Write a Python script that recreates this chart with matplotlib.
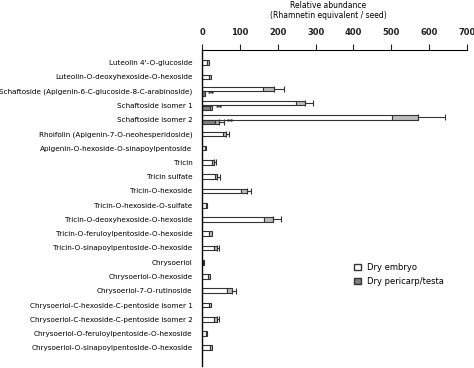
import matplotlib
matplotlib.use("Agg")
import matplotlib.pyplot as plt
import numpy as np
from matplotlib.patches import Patch

compounds = [
    "Luteolin 4'-O-glucoside",
    "Luteolin-O-deoxyhexoside-O-hexoside",
    "Schaftoside (Apigenin-6-C-glucoside-8-C-arabinoside)",
    "Schaftoside isomer 1",
    "Schaftoside isomer 2",
    "Rhoifolin (Apigenin-7-O-neohesperidoside)",
    "Apigenin-O-hexoside-O-sinapoylpentoside",
    "Tricin",
    "Tricin sulfate",
    "Tricin-O-hexoside",
    "Tricin-O-hexoside-O-sulfate",
    "Tricin-O-deoxyhexoside-O-hexoside",
    "Tricin-O-feruloylpentoside-O-hexoside",
    "Tricin-O-sinapoylpentoside-O-hexoside",
    "Chrysoeriol",
    "Chrysoeriol-O-hexoside",
    "Chrysoeriol-7-O-rutinoside",
    "Chrysoeriol-C-hexoside-C-pentoside isomer 1",
    "Chrysoeriol-C-hexoside-C-pentoside isomer 2",
    "Chrysoeriol-O-feruloylpentoside-O-hexoside",
    "Chrysoeriol-O-sinapoylpentoside-O-hexoside",
]
# Dry embryo: mean, box segment (SE) and whisker (SD)
embryo_mean = [12, 18, 161, 248, 503, 56, 8, 25, 34, 102, 9, 164, 19, 31, 3, 16, 66, 17, 31, 9, 20]
embryo_box  = [5, 6, 29, 23, 69, 6, 3, 5, 5, 15, 4, 24, 6, 7, 1, 5, 12, 5, 7, 4, 6]
embryo_sd   = [0, 0, 55, 44, 138, 15, 0, 11, 13, 27, 0, 44, 0, 14, 0, 0, 22, 0, 14, 0, 0]
# Dry pericarp/testa (only the schaftosides)
peri_idx  = [2, 3, 4]
peri_mean = [6, 20, 34]
peri_box  = [0, 6, 10]
peri_sd   = [0, 0, 23]
peri_star = ["**", "**", "**"]

fig = plt.figure(figsize=(4.74, 3.68), dpi=100)
ax = fig.add_axes([0.4268, 0.0054, 0.558, 0.8587])

y = np.arange(len(compounds))
h = 0.32
edge = "#333333"
yemb = np.array([i - 0.17 if i in peri_idx else i for i in y], dtype=float)

em = np.array(embryo_mean); eb = np.array(embryo_box); es = np.array(embryo_sd)
ax.barh(yemb, em, height=h, color="white", edgecolor=edge, linewidth=0.8, zorder=2)
ax.barh(yemb, eb, left=em, height=h, color="#bdbdbd", edgecolor=edge, linewidth=0.8, zorder=2)
has = es > 0
ax.errorbar(em[has] + eb[has] + (es[has] - eb[has]) / 2, yemb[has], xerr=(es[has] - eb[has]) / 2,
            fmt="none", ecolor=edge, elinewidth=0.8, capsize=2, capthick=0.8, zorder=3)

pi = np.array(peri_idx, dtype=float) + 0.17
pm = np.array(peri_mean); pb = np.array(peri_box); ps = np.array(peri_sd)
ax.barh(pi, pm, height=h, color="#808080", edgecolor=edge, linewidth=0.8, zorder=2)
ax.barh(pi, pb, left=pm, height=h, color="#b0b0b0", edgecolor=edge, linewidth=0.8, zorder=2)
hp = ps > 0
ax.errorbar(pm[hp] + pb[hp] + (ps[hp] - pb[hp]) / 2, pi[hp], xerr=(ps[hp] - pb[hp]) / 2,
            fmt="none", ecolor=edge, elinewidth=0.8, capsize=2, capthick=0.8, zorder=3)
for yy, m, b, s, st in zip(pi, pm, pb, ps, peri_star):
    ax.text(m + max(b, s) + 9, yy, st, fontsize=5, fontweight="bold", va="center", ha="left", color="#222222")

ax.set_xlim(0, 700)
ax.set_ylim(len(compounds) - 1 + 1.28, -0.89)
ax.set_yticks(y)
ax.set_yticklabels(compounds, fontsize=5.2)
ax.tick_params(axis="y", length=0, pad=7)
ax.xaxis.tick_top()
ax.set_xticks(np.arange(0, 701, 100))
ax.tick_params(axis="x", direction="out", length=4.3, width=0.8, labelsize=6, pad=5, colors="#222222")
for lab in ax.get_xticklabels():
    lab.set_fontweight("bold")
for s in ["right", "bottom"]:
    ax.spines[s].set_visible(False)
ax.spines["top"].set_linewidth(0.8)
ax.spines["left"].set_linewidth(1.0)

fig.text(0.693, 0.997, "Relative abundance", ha="center", va="top", fontsize=5.5)
fig.text(0.693, 0.970, "(Rhamnetin equivalent / seed)", ha="center", va="top", fontsize=5.5)

handles = [Patch(facecolor="white", edgecolor=edge, label="Dry embryo"),
           Patch(facecolor="#808080", edgecolor=edge, label="Dry pericarp/testa")]
ax.legend(handles=handles, loc="center left", bbox_to_anchor=(0.545, 0.29), frameon=False,
          fontsize=6, handlelength=0.9, handleheight=0.9, handletextpad=0.7, labelspacing=0.6)

fig.savefig("out.png", dpi=100)
